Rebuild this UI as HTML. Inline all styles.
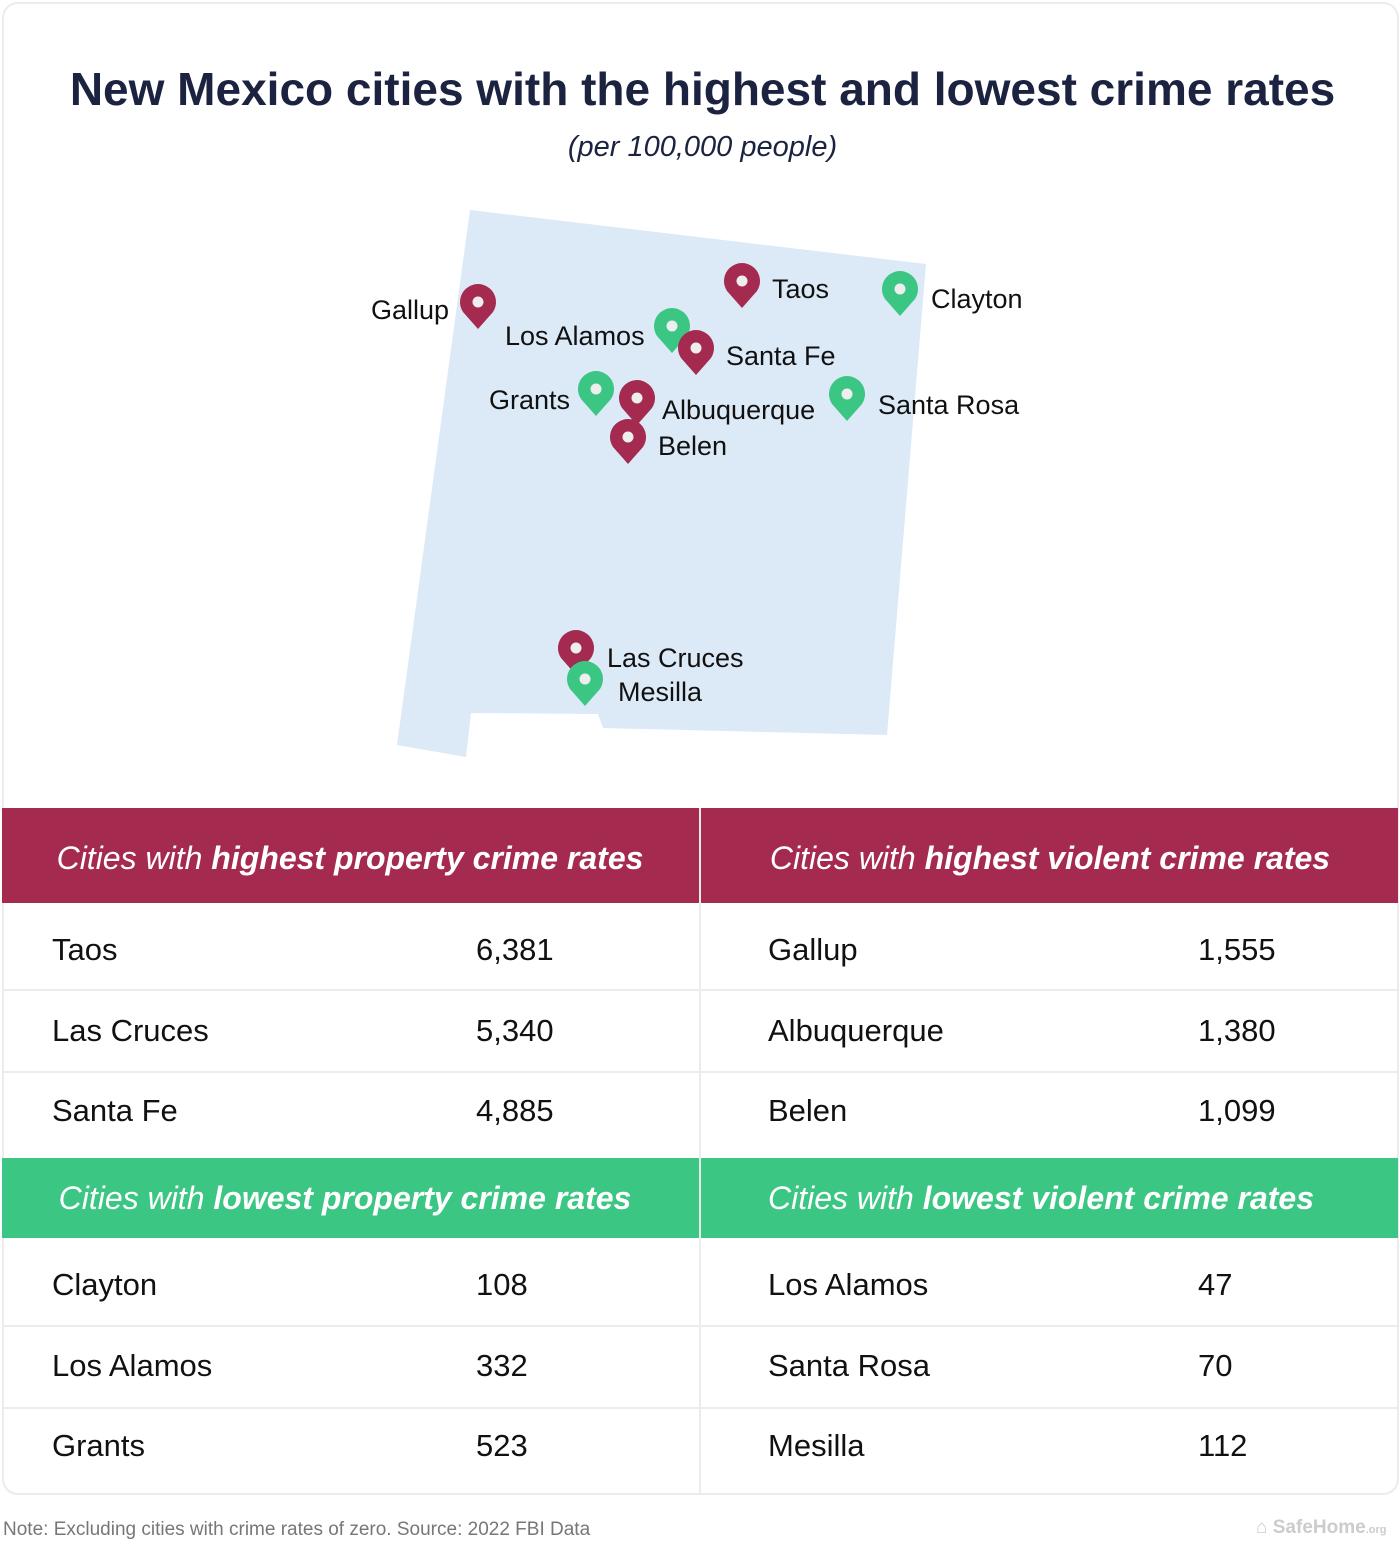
<!DOCTYPE html>
<html><head><meta charset="utf-8"><style>
body{margin:0;background:#fff;width:1400px;height:1545px;position:relative;font-family:"Liberation Sans",sans-serif;overflow:hidden}
.card{position:absolute;left:2px;top:2px;width:1393px;height:1489px;border:2px solid #ececec;border-radius:16px;overflow:hidden;background:#fff}
.t{position:absolute;white-space:nowrap}
.lbl{position:absolute;font-size:27px;color:#111;white-space:nowrap;line-height:1}
.hdr{position:absolute;color:#fff;font-size:32px;font-style:italic;text-align:center;line-height:1;white-space:nowrap}
.hdr b{font-weight:bold}
.cell{position:absolute;font-size:31px;color:#111;line-height:1;white-space:nowrap}
.hl{position:absolute;height:2px;background:#ececec}
</style></head><body>
<div class="card">
<div class="t" style="left:0;width:1397px;top:58px;text-align:center;font-size:46px;font-weight:bold;color:#1c2340">New Mexico cities with the highest and lowest crime rates</div>
<div class="t" style="left:0;width:1397px;top:127px;text-align:center;font-size:29px;font-style:italic;color:#1c2340">(per 100,000 people)</div>
</div>
<svg style="position:absolute;left:0;top:0" width="1400" height="800">
<polygon points="470,210 926,264 887,735 603,728 598,714 471,713 466,757 397,745" fill="#dce9f7"/>
<defs>
<g id="pin"><path d="M0,24 L-15,7 A18,18 0 1,1 15,7 Z"/><circle cx="0" cy="-3" r="5.5" fill="#eee"/></g>
</defs>
<g fill="#a52a4f">
<use href="#pin" x="478" y="305"/>
<use href="#pin" x="742" y="284"/>
</g>
<g fill="#3cc684"><use href="#pin" x="900" y="292"/><use href="#pin" x="672" y="329"/></g>
<g fill="#a52a4f"><use href="#pin" x="696" y="351"/></g>
<g fill="#3cc684"><use href="#pin" x="596" y="392"/><use href="#pin" x="847" y="397"/></g>
<g fill="#a52a4f"><use href="#pin" x="637" y="401"/><use href="#pin" x="628" y="440"/><use href="#pin" x="576" y="651"/></g>
<g fill="#3cc684"><use href="#pin" x="585" y="682"/></g>
</svg>
<div class="lbl" style="left:371px;top:297px">Gallup</div>
<div class="lbl" style="left:772px;top:276px">Taos</div>
<div class="lbl" style="left:931px;top:286px">Clayton</div>
<div class="lbl" style="left:505px;top:323px">Los Alamos</div>
<div class="lbl" style="left:726px;top:343px">Santa Fe</div>
<div class="lbl" style="left:489px;top:387px">Grants</div>
<div class="lbl" style="left:662px;top:397px">Albuquerque</div>
<div class="lbl" style="left:878px;top:392px">Santa Rosa</div>
<div class="lbl" style="left:658px;top:433px">Belen</div>
<div class="lbl" style="left:607px;top:645px">Las Cruces</div>
<div class="lbl" style="left:618px;top:679px">Mesilla</div>

<div style="position:absolute;left:2px;top:808px;width:1396px;height:95px;background:#a52a4f"></div>
<div style="position:absolute;left:2px;top:1158px;width:1396px;height:80px;background:#3cc684"></div>
<div style="position:absolute;left:699px;top:808px;width:2px;height:686px;background:#ececec"></div>
<div class="hdr" style="left:0;width:700px;top:842px">Cities with <b>highest property crime rates</b></div>
<div class="hdr" style="left:700px;width:700px;top:842px">Cities with <b>highest violent crime rates</b></div>
<div class="hdr" style="left:0;width:690px;top:1182px">Cities with <b>lowest property crime rates</b></div>
<div class="hdr" style="left:700px;width:682px;top:1182px">Cities with <b>lowest violent crime rates</b></div>
<div class="hl" style="left:2px;top:989px;width:1396px"></div>
<div class="hl" style="left:2px;top:1071px;width:1396px"></div>
<div class="hl" style="left:2px;top:1325px;width:1396px"></div>
<div class="hl" style="left:2px;top:1407px;width:1396px"></div>

<div class="cell" style="left:52px;top:934px">Taos</div><div class="cell" style="left:476px;top:934px">6,381</div>
<div class="cell" style="left:52px;top:1015px">Las Cruces</div><div class="cell" style="left:476px;top:1015px">5,340</div>
<div class="cell" style="left:52px;top:1095px">Santa Fe</div><div class="cell" style="left:476px;top:1095px">4,885</div>
<div class="cell" style="left:768px;top:934px">Gallup</div><div class="cell" style="left:1198px;top:934px">1,555</div>
<div class="cell" style="left:768px;top:1015px">Albuquerque</div><div class="cell" style="left:1198px;top:1015px">1,380</div>
<div class="cell" style="left:768px;top:1095px">Belen</div><div class="cell" style="left:1198px;top:1095px">1,099</div>
<div class="cell" style="left:52px;top:1269px">Clayton</div><div class="cell" style="left:476px;top:1269px">108</div>
<div class="cell" style="left:52px;top:1350px">Los Alamos</div><div class="cell" style="left:476px;top:1350px">332</div>
<div class="cell" style="left:52px;top:1430px">Grants</div><div class="cell" style="left:476px;top:1430px">523</div>
<div class="cell" style="left:768px;top:1269px">Los Alamos</div><div class="cell" style="left:1198px;top:1269px">47</div>
<div class="cell" style="left:768px;top:1350px">Santa Rosa</div><div class="cell" style="left:1198px;top:1350px">70</div>
<div class="cell" style="left:768px;top:1430px">Mesilla</div><div class="cell" style="left:1198px;top:1430px">112</div>

<div class="t" style="left:3px;top:1519px;font-size:19px;color:#777">Note: Excluding cities with crime rates of zero. Source: 2022 FBI Data</div>
<div class="t" style="left:1256px;top:1517px;font-size:19px;color:#ccc;font-weight:bold">⌂ SafeHome<span style="font-size:11px">.org</span></div>
</body></html>
